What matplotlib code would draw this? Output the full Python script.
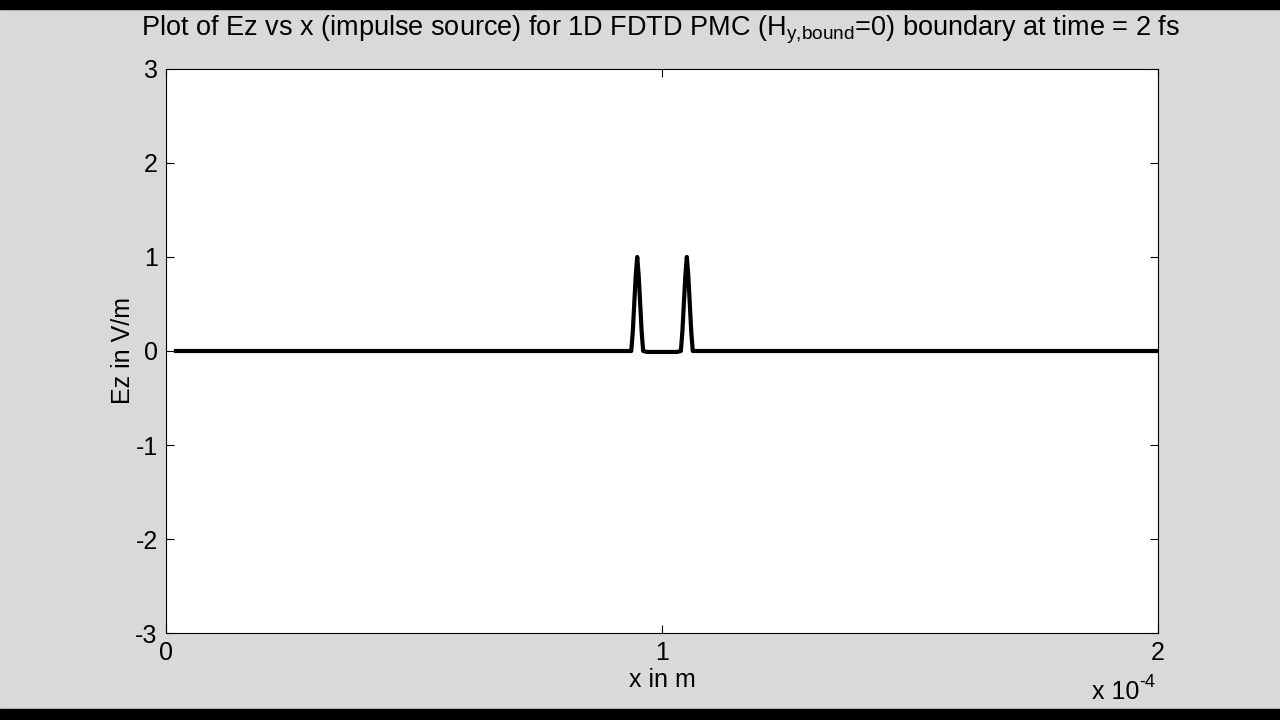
import matplotlib.pyplot as plt
from matplotlib.patches import Rectangle

plt.rcParams['font.family'] = ['Liberation Sans', 'DejaVu Sans']
plt.rcParams['mathtext.fontset'] = 'custom'
plt.rcParams['mathtext.rm'] = 'Liberation Sans'
plt.rcParams['mathtext.it'] = 'Liberation Sans'
plt.rcParams['axes.unicode_minus'] = False

# x positions in micrometres, Ez in V/m
x_um = [2, 93.8, 94.1, 94.4, 94.7, 95.0, 95.3, 95.6, 95.9, 96.2,
        97.0, 103.0,
        103.8, 104.1, 104.4, 104.7, 105.0, 105.3, 105.6, 105.9, 106.2, 200]
ez = [0.0, 0.0, 0.2, 0.5, 0.8, 1.0, 0.8, 0.5, 0.2, 0.0,
      -0.01, -0.01,
      0.0, 0.2, 0.5, 0.8, 1.0, 0.8, 0.5, 0.2, 0.0, 0.0]

x_ticks = [0, 1e-4, 2e-4]
x_tick_labels = ['0', '1', '2']
y_ticks = [-3, -2, -1, 0, 1, 2, 3]

bg = '#d9d9d9'
fig = plt.figure(figsize=(12.8, 7.2), dpi=100, facecolor=bg)
ax = fig.add_axes([0.1297, 0.1208, 0.775, 0.7834])

ax.plot([v * 1e-6 for v in x_um], ez, color='black', linewidth=3)
ax.set_xlim(0, 2e-4)
ax.set_ylim(-3, 3)
ax.set_xticks(x_ticks)
ax.set_xticklabels(x_tick_labels)
ax.set_yticks(y_ticks)
ax.tick_params(direction='in', length=6, width=0.8, labelsize=18,
               top=True, right=True, pad=6)
for s in ax.spines.values():
    s.set_linewidth(0.8)

ax.set_xlabel('x in m', fontsize=18, labelpad=2)
ax.set_ylabel('Ez in V/m', fontsize=18, labelpad=0)
ax.set_title('Plot of Ez vs x (impulse source) for 1D FDTD PMC '
             r'(H$_{\mathrm{y{,}bound}}$=0) boundary at time = 2 fs',
             fontsize=19.5, pad=24, x=0.498)
ax.text(0.981, -0.104, 'x 10', transform=ax.transAxes,
        ha='right', va='center', fontsize=18)
ax.text(0.981, -0.088, '-4', transform=ax.transAxes,
        ha='left', va='center', fontsize=13)

# black letterbox strips
fig.patches.append(Rectangle((0, 0), 1, 11 / 720, transform=fig.transFigure,
                             color='black', zorder=10))
fig.patches.append(Rectangle((0, 1 - 9 / 720), 1, 9 / 720,
                             transform=fig.transFigure, color='black', zorder=10))

fig.savefig('out.png', dpi=100, facecolor=bg)
